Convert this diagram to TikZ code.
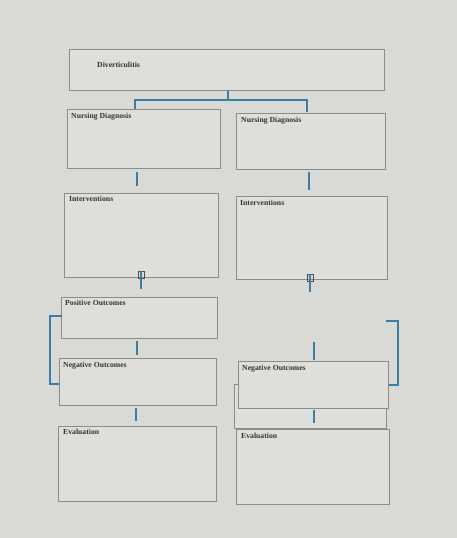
\documentclass[tikz,border=0pt]{standalone}
\usepackage{fontspec}
\setmainfont{Liberation Serif}
\definecolor{paper}{HTML}{D9D9D5}
\definecolor{pagec}{HTML}{DEDEDA}
\definecolor{edge}{HTML}{8C8C8A}
\definecolor{conn}{HTML}{3A7DA6}
\tikzset{
  box/.style={draw=edge, line width=0.6pt, fill=pagec, anchor=north west, inner sep=0pt},
  lbl/.style={anchor=north west, inner sep=0pt, font=\fontsize{7.7}{8}\selectfont\bfseries, text=black!80},
  link/.style={draw=conn, line width=1.7pt},
  tiny/.style={draw=black!70, line width=0.5pt, minimum width=6pt, minimum height=7pt, inner sep=0pt}
}
\begin{document}
\begin{tikzpicture}[x=1pt,y=-1pt]
\fill[paper] (0,0) rectangle (457,538);
\useasboundingbox (0,0) rectangle (457,538);
% boxes
\node[box, minimum width=315pt, minimum height=41pt] (div) at (69,49) {};
\node[lbl] (divt) at (97,62) {Diverticulitis};
\node[box, minimum width=153pt, minimum height=59pt] (ndl) at (67,109) {};
\node[lbl] (ndlt) at (71,113) {Nursing Diagnosis};
\node[box, minimum width=149pt, minimum height=56pt] (ndr) at (236,113) {};
\node[lbl] (ndrt) at (241,117) {Nursing Diagnosis};
\node[box, minimum width=154pt, minimum height=84pt] (intl) at (64,193) {};
\node[lbl] (intlt) at (69,196) {Interventions};
\node[box, minimum width=151pt, minimum height=83pt] (intr) at (236,196) {};
\node[lbl] (intrt) at (240,200) {Interventions};
\node[box, minimum width=156pt, minimum height=41pt] (posl) at (61,297) {};
\node[lbl] (poslt) at (65,300) {Positive Outcomes};
\node[box, minimum width=157pt, minimum height=47pt] (negl) at (59,358) {};
\node[lbl] (neglt) at (63,362) {Negative Outcomes};
\node[box, minimum width=152pt, minimum height=44pt] (hid) at (234,384) {};
\node[box, minimum width=150pt, minimum height=47pt] (negr) at (238,361) {};
\node[lbl] (negrt) at (242,365) {Negative Outcomes};
\node[box, minimum width=158pt, minimum height=75pt] (evl) at (58,426) {};
\node[lbl] (evlt) at (63,429) {Evaluation};
\node[box, minimum width=153pt, minimum height=75pt] (evr) at (236,429) {};
\node[lbl] (evrt) at (241,433) {Evaluation};
% top connector
\coordinate (junc) at (228,100);
\draw[link] (div.south -| junc) -- (junc);
\draw[link] (135,109) |- (junc) -| (307,112);
% ticks
\draw[link] (137,172) -- (137,186);
\draw[link] (309,172) -- (309,190);
\node[tiny] (sql) at (141,275) {};
\node[tiny] (sqr) at (310,278) {};
\draw[link] (sql.north) -- ++(0,18);
\draw[link] (sqr.north) -- ++(0,18);
\draw[link] (137,341) -- (137,355);
\draw[link] (314,342) -- (314,360);
\draw[link] (136,408) -- (136,421);
\draw[link] (314,410) -- (314,423);
% brackets
\draw[link] (posl.west) ++(1,-2) -- ++(-12,0) |- ([yshift=-2pt]negl.west);
\coordinate (rtop) at (386,321);
\draw[link] (rtop) -- ++(12,0) |- (negr.east);
\end{tikzpicture}
\end{document}
